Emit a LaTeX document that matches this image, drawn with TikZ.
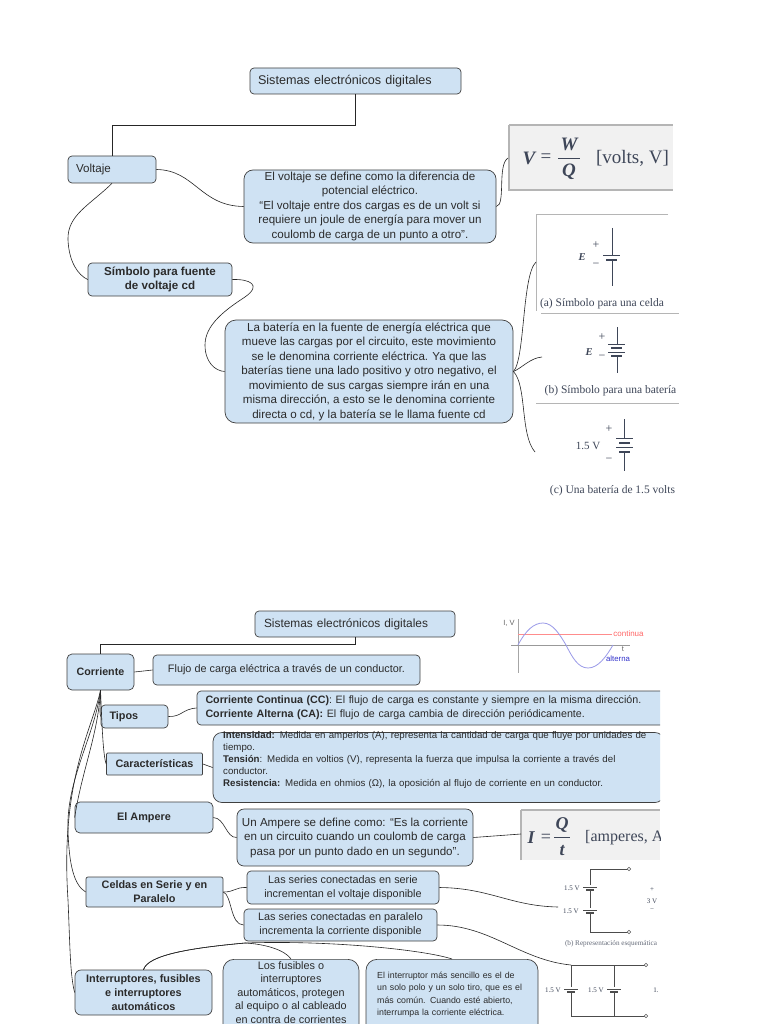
\documentclass[tikz,border=0pt]{standalone}
\usepackage{fontspec}
\setmainfont{Liberation Sans}
\newfontfamily\imgserif{Liberation Serif}
\definecolor{boxblue}{HTML}{CFE2F3}
\definecolor{txt}{HTML}{2B2B2B}
\definecolor{imgtxt}{HTML}{3E4658}
\definecolor{imgbg}{HTML}{F1F1F1}
\definecolor{imgedge}{HTML}{B5B5B5}
\definecolor{wavey}{HTML}{9A9AE8}
\newcommand{\ftop}{\fontsize{12.6}{14}\selectfont}
\newcommand{\ftwo}{\fontsize{11.9}{14}\selectfont}
\newcommand{\fu}{\fontsize{11.6}{14.5}\selectfont}
\newcommand{\fb}{\fontsize{10.85}{14.2}\selectfont}
\newcommand{\fc}{\fontsize{10.7}{14}\selectfont}
\newcommand{\fd}{\fontsize{9.7}{12.05}\selectfont}
\newcommand{\fe}{\fontsize{8.8}{12.6}\selectfont}
\tikzset{
 box/.style={draw=black!75,fill=boxblue,rounded corners=4pt,line width=0.7pt,inner sep=0pt,text=txt,align=center},
 bigbox/.style={box,rounded corners=11pt},
 free/.style={inner sep=0pt,text=txt},
 conn/.style={draw=black!85,line width=0.6pt},
 wire/.style={draw=black!70,line width=0.7pt},
 imgcap/.style={inner sep=0pt,text=imgtxt,font=\imgserif\fontsize{11.5}{13}\selectfont},
 imglab/.style={inner sep=0pt,text=imgtxt,font=\imgserif\fontsize{12}{13}\selectfont},
 imgE/.style={inner sep=0pt,text=imgtxt,font=\imgserif\itshape\bfseries\fontsize{10.5}{12}\selectfont},
 imgrule/.style={draw=imgedge,line width=0.8pt},
 smallcap/.style={inner sep=0pt,text=imgtxt!80,font=\imgserif\fontsize{7.2}{8}\selectfont},
 smalllab/.style={inner sep=0pt,text=imgtxt,font=\imgserif\fontsize{7}{8}\selectfont},
 term/.style={circle,draw=black!65,fill=white,line width=0.6pt,minimum size=3.5pt,inner sep=0pt},
}
\begin{document}
\begin{tikzpicture}[x=1pt,y=-1pt]
\useasboundingbox (0,0) rectangle (768,1024);
\clip (0,0) rectangle (768,1024);
\fill[white] (0,0) rectangle (768,1024);

% ---------- upper page: images ----------
\fill[imgbg] (509,125) rectangle (673,190);
\draw[imgedge,line width=1.2pt] (509,125) -- (673,125);
\draw[imgedge,line width=1.2pt] (509,125) -- (509,190) -- (673,190);
\node[inner sep=0pt,text=imgtxt,font=\imgserif\bfseries\itshape\fontsize{19}{20}\selectfont] (vV) at (529,158) {V};
\node[inner sep=0pt,text=imgtxt,font=\imgserif\fontsize{19}{20}\selectfont] (vEq) at (546,158) {=};
\node[inner sep=0pt,text=imgtxt,font=\imgserif\bfseries\itshape\fontsize{19}{20}\selectfont] (vW) at (569,144) {W};
\node[inner sep=0pt,text=imgtxt,font=\imgserif\bfseries\itshape\fontsize{19}{20}\selectfont] (vQ) at (569,172) {Q};
\draw[imgtxt,line width=0.9pt] (558,158) -- (580,158);
\node[inner sep=0pt,text=imgtxt,font=\imgserif\fontsize{19}{20}\selectfont] (vU) at (632.5,158) {[volts, V]};

% cell
\draw[imgrule] (668,214) -- (536,214) -- (536,311);
\draw[imgrule] (541,313) -- (679,313);
\draw[imgrule] (536,403) -- (679,403);
\draw[imgtxt,line width=0.9pt] (612,228) -- (612,255) (612,260) -- (612,286);
\draw[imgtxt,line width=0.9pt] (603,255) -- (620,255);
\draw[imgtxt,line width=1.3pt] (606,260) -- (617,260);
\node[imgE] (aE) at (582,257) {E};
\node[imglab] (aP) at (596,245) {+};
\node[imglab] (aM) at (596,265) {−};
\node[imgcap] (aC) at (602,304) {(a) Símbolo para una celda};
% battery
\draw[imgtxt,line width=0.9pt] (617,327) -- (617,344) (617,356) -- (617,373);
\draw[imgtxt,line width=0.9pt] (608,344) -- (625,344) (608,352) -- (625,352);
\draw[imgtxt,line width=1.3pt] (611,348) -- (622,348) (611,356) -- (622,356);
\node[imgE] (bE) at (589,352) {E};
\node[imglab] (bP) at (602,337) {+};
\node[imglab] (bM) at (602,357) {−};
\node[imgcap] (bC) at (610.5,391) {(b) Símbolo para una batería};
% 1.5 V
\draw[imgtxt,line width=0.9pt] (624,419) -- (624,438) (624,452) -- (624,471);
\draw[imgtxt,line width=0.9pt] (616,438) -- (633,438) (616,447) -- (633,447);
\draw[imgtxt,line width=1.3pt] (619,443) -- (630,443) (619,452) -- (630,452);
\node[imglab,font=\imgserif\fontsize{11}{12}\selectfont] (cV) at (588,446) {1.5 V};
\node[imglab] (cP) at (609,429) {+};
\node[imglab] (cM) at (609,460) {−};
\node[imgcap] (cC) at (612.5,491) {(c) Una batería de 1.5 volts};

% ---------- upper page: boxes ----------
\node[box,minimum width=211pt,minimum height=26pt,text width=195pt,align=left,font=\ftop] (t1) at (355.5,81) {Sistemas electrónicos digitales};
\node[box,minimum width=88pt,minimum height=27pt,text width=72pt,align=left,font=\fu] (volt) at (112,169.5) {Voltaje};
\node[box,rounded corners=9pt,minimum width=252pt,minimum height=73pt,font=\fu] (def) at (370,206.5) {El voltaje se define como la diferencia de\\potencial eléctrico.\\“El voltaje entre dos cargas es de un volt si\\requiere un joule de energía para mover un\\coulomb de carga de un punto a otro”.};
\node[box,minimum width=144pt,minimum height=33pt,font=\fu\bfseries] (simb) at (160,279.5) {Símbolo para fuente\\de voltaje cd};
\node[bigbox,minimum width=288pt,minimum height=103pt,font=\fu] (bat) at (369,371.5) {La batería en la fuente de energía eléctrica que\\mueve las cargas por el circuito, este movimiento\\se le denomina corriente eléctrica. Ya que las\\baterías tiene una lado positivo y otro negativo, el\\movimiento de sus cargas siempre irán en una\\misma dirección, a esto se le denomina corriente\\directa o cd, y la batería se le llama fuente cd};

\coordinate (imgV) at (508,158);
\coordinate (imgA) at (536,262);
\coordinate (imgB) at (542,357);
\coordinate (imgC) at (535,452);
\draw[conn] (t1.south) -- ++(0,31) -| (volt.north);
\draw[conn] (volt.east) .. controls (195,170) and (200,206) .. (def.west);
\draw[conn] (def.east) .. controls (506,205) and (497,165) .. (imgV);
\draw[conn] (volt.south) .. controls (90,205) and (67,215) .. (68,240) .. controls (69,262) and (78,275) .. (simb.west);
\draw[conn] (simb.east) .. controls (250,279) and (262,285) .. (245,297) .. controls (225,310) and (205,325) .. (205,345) .. controls (205,362) and (215,371) .. (bat.west);
\draw[conn] (bat.east) .. controls (525,360) and (522,275) .. (imgA);
\draw[conn] (bat.east) .. controls (522,368) and (530,358) .. (imgB);
\draw[conn] (bat.east) .. controls (527,385) and (520,435) .. (imgC);

% ---------- lower page: images ----------
\draw[gray!70,line width=0.8pt] (518,619) -- (518,673);
\draw[gray!80,line width=0.8pt] (511,645) -- (630,645);
\draw[red!45,line width=0.7pt] (518,634) -- (612,634);
\draw[wavey,line width=0.8pt] (518,645) .. controls (526,630) and (534,623) .. (543,623) .. controls (553,623) and (560,635) .. (566,645) .. controls (572,657) and (578,668) .. (588,668) .. controls (598,668) and (606,657) .. (613,645);
\node[inner sep=0pt,text=gray!80!black,font=\fontsize{7.5}{8}\selectfont] (wI) at (509,623) {I, V};
\node[inner sep=0pt,text=gray!80!black,font=\fontsize{7.5}{8}\selectfont] (wT) at (623,649) {t};
\node[inner sep=0pt,text=red!60,font=\fontsize{8}{9}\selectfont] (wC) at (628.5,634) {continua};
\node[inner sep=0pt,text=blue!60!gray,font=\fontsize{7.8}{9}\selectfont] (wA) at (618,659) {alterna};

\fill[imgbg] (521,810) rectangle (660,860);
\draw[imgedge,line width=1.2pt] (521,810) -- (660,810);
\draw[imgedge,line width=1.2pt] (521,860) -- (521,810);
\node[inner sep=0pt,text=imgtxt,font=\imgserif\bfseries\itshape\fontsize{18}{19}\selectfont] (iI) at (531,838) {I};
\node[inner sep=0pt,text=imgtxt,font=\imgserif\fontsize{18}{19}\selectfont] (iEq) at (546,838) {=};
\node[inner sep=0pt,text=imgtxt,font=\imgserif\bfseries\itshape\fontsize{18}{19}\selectfont] (iQ) at (562,825) {Q};
\node[inner sep=0pt,text=imgtxt,font=\imgserif\bfseries\itshape\fontsize{18}{19}\selectfont] (it) at (562,851) {t};
\draw[imgtxt,line width=0.9pt] (554,837) -- (570,837);
\begin{scope}
\clip (521,810) rectangle (660,860);
\node[inner sep=0pt,anchor=west,text=imgtxt,font=\imgserif\fontsize{16}{18}\selectfont] (iU) at (585,838) {[amperes, A]};
\end{scope}

% series circuit
\draw[wire] (629,869) -- (590,869) -- (590,885) (590,891) -- (590,908) (590,914) -- (590,932) -- (629,932);
\draw[wire] (583,887) -- (597,887) (583,910) -- (597,910);
\draw[wire,line width=1.2pt] (586,890) -- (594,890) (586,913) -- (594,913);
\node[term] (s1) at (629,869) {};
\node[term] (s2) at (629,932) {};
\node[smalllab] (sa) at (572,888) {1.5 V};
\node[smalllab] (sb) at (571,911) {1.5 V};
\node[smalllab] (sp) at (652,890) {+};
\node[smalllab] (sv) at (652,901) {3 V};
\node[smalllab] (sm) at (652,910) {−};
\node[smallcap] (sc) at (611,944) {(b) Representación esquemática};

% parallel circuit
\draw[wire] (646,965) -- (571,965) -- (571,987) (571,993) -- (571,1016) -- (646,1016);
\draw[wire] (614,965) -- (614,987) (614,993) -- (614,1016);
\draw[wire] (564,989) -- (578,989) (607,989) -- (621,989);
\draw[wire,line width=1.2pt] (567,992) -- (575,992) (610,992) -- (618,992);
\node[term] (p1) at (646,965) {};
\node[term] (p2) at (646,1016) {};
\node[smalllab] (pa) at (553,990) {1.5 V};
\node[smalllab] (pb) at (596,990) {1.5 V};
\node[smalllab] (pc) at (656,990) {1.};

% ---------- lower page: boxes ----------
\node[box,minimum width=200pt,minimum height=26pt,text width=182pt,align=left,font=\ftwo] (t2) at (355,624) {Sistemas electrónicos digitales};
\node[box,rounded corners=5pt,minimum width=67pt,minimum height=36pt,font=\fc\bfseries] (corr) at (100.5,672) {Corriente};
\node[box,minimum width=267pt,minimum height=30pt,font=\fb] (flujo) at (286.5,670) {Flujo de carga eléctrica a través de un conductor.};
\node[box,minimum width=67pt,minimum height=23pt,text width=50pt,align=left,font=\fb\bfseries] (tipos) at (134.5,716.5) {Tipos};
\node[box,rounded corners=1pt,minimum width=96pt,minimum height=22pt,font=\fb\bfseries] (carac) at (154.5,764) {Características};
\begin{scope}
\clip (190,680) rectangle (660,810);
\node[box,minimum width=493pt,minimum height=34pt,text width=476pt,align=left,font=\fc] (cc) at (443.5,708) {\textbf{Corriente Continua (CC)}: El flujo de carga es constante y siempre en la misma dirección.\\\textbf{Corriente Alterna (CA):} El flujo de carga cambia de dirección periódicamente.};
\node[box,rounded corners=9pt,minimum width=451pt,minimum height=70pt] (cr) at (438.5,767.5) {};
\end{scope}
\node[free,anchor=north west,text width=432pt,align=left,font=\fd] (crt) at (223,731.5) {\textbf{Intensidad:} Medida en amperios (A), representa la cantidad de carga que fluye por unidades de\\tiempo.\\\textbf{Tensión}: Medida en voltios (V), representa la fuerza que impulsa la corriente a través del\\conductor.\\\textbf{Resistencia:} Medida en ohmios (Ω), la oposición al flujo de corriente en un conductor.};
\node[box,rounded corners=5pt,minimum width=138pt,minimum height=31pt,font=\fb\bfseries] (amp) at (144,817.5) {El Ampere};
\node[box,rounded corners=7pt,minimum width=236pt,minimum height=57pt,font=\fu] (ampd) at (355,837.5) {Un Ampere se define como: “Es la corriente\\en un circuito cuando un coulomb de carga\\pasa por un punto dado en un segundo”.};
\node[box,rounded corners=2pt,minimum width=137pt,minimum height=30pt,font=\fb\bfseries] (cel) at (154.5,892) {Celdas en Serie y en\\Paralelo};
\node[box,minimum width=192pt,minimum height=33pt,font=\fb] (ser) at (343,887.5) {Las series conectadas en serie\\incrementan el voltaje disponible};
\node[box,minimum width=193pt,minimum height=32pt,font=\fb] (par) at (340.5,925) {Las series conectadas en paralelo\\incrementa la corriente disponible};
\node[box,rounded corners=6pt,minimum width=137pt,minimum height=45pt,font=\fb\bfseries] (intr) at (143.5,992.5) {Interruptores, fusibles\\e interruptores\\automáticos};
\node[bigbox,anchor=north,minimum width=136pt,minimum height=90pt] (fus) at (291,959) {};
\node[free,anchor=north,align=center,font=\fontsize{10.85}{13.55}\selectfont] (fust) at (291,961) {Los fusibles o\\interruptores\\automáticos, protegen\\al equipo o al cableado\\en contra de corrientes};
\node[bigbox,anchor=north,minimum width=172pt,minimum height=90pt] (intd) at (452,959) {};
\node[free,anchor=north west,text width=155pt,align=left,font=\fe] (intt) at (377,971.5) {El interruptor más sencillo es el de\\un solo polo y un solo tiro, que es el\\más común. Cuando esté abierto,\\interrumpa la corriente eléctrica.};

% ---------- lower page: connectors ----------
\coordinate (imgI) at (521,834);
\coordinate (imgS) at (558,907);
\coordinate (imgP) at (571,965);
\draw[conn] (t2.south) -- ++(0,7) -| (corr.north);
\draw[conn] (corr.east) -- (flujo.west);
\draw[conn] (tipos.east) .. controls (182,717) and (182,709) .. (cc.west);
\draw[conn] (carac.east) -- (cr.west);
\draw[conn] (amp.east) .. controls (225,818) and (226,838) .. (ampd.west);
\draw[conn] (ampd.east) -- (imgI);
\draw[conn] (cel.east) .. controls (235,892) and (235,887) .. (ser.west);
\draw[conn] (cel.east) .. controls (232,895) and (230,925) .. (par.west);
\draw[conn] (ser.east) .. controls (490,888) and (510,906) .. (imgS);
\draw[conn] (par.east) .. controls (490,925) and (520,960) .. (imgP);
\draw[conn] (corr.south) .. controls (101,700) and (99,712) .. (tipos.west);
\draw[conn] (corr.south) .. controls (102,725) and (103,755) .. (carac.west);
\draw[conn] (corr.south) .. controls (98,735) and (82,770) .. (amp.west);
\draw[conn] (corr.south) .. controls (95,735) and (66,780) .. (68,830) .. controls (69,865) and (74,885) .. (cel.west);
\draw[conn] (corr.south) .. controls (92,730) and (60,780) .. (68,900) .. controls (70,945) and (70,975) .. (intr.west);
\draw[conn] (intr.north) .. controls (148,955) and (190,948) .. (245,943) .. controls (265,944) and (285,950) .. (fus.north);
\draw[conn] (intr.north) .. controls (148,955) and (190,948) .. (245,943) .. controls (330,940) and (425,950) .. (intd.north);
\end{tikzpicture}
\end{document}
